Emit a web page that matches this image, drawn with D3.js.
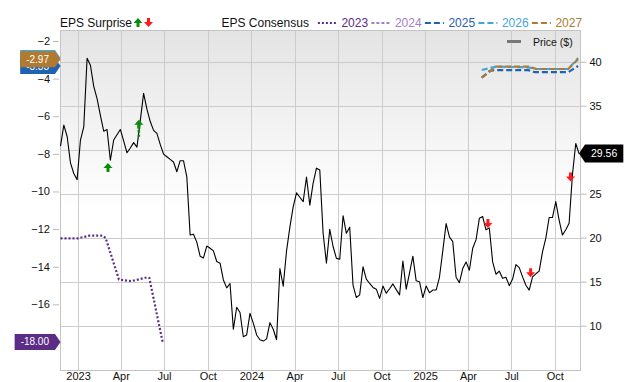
<!DOCTYPE html>
<html>
<head>
<meta charset="utf-8">
<script src="https://cdn.jsdelivr.net/npm/d3@7"></script>
<style>
body { margin: 0; background: #fff; }
svg { font-family: "Liberation Sans", Arial, sans-serif; }
</style>
</head>
<body>
<div id="chart"></div>
<script>
// weekly closing price, first week starts at priceStart
var priceStart = "2022-11-25";
var priceValues = [30.4, 32.8, 31.5, 28.5, 27.3, 26.6, 31.1, 32.6, 40.4, 39.6,
  37.2, 35.8, 33.9, 32.1, 32.3, 28.8, 31.1, 31.7, 32.3, 31.0,
  29.65, 30.2, 30.8, 30.3, 33.3, 36.4, 34.6, 33.2, 32.2, 31.85,
  30.6, 29.5, 29.2, 28.9, 28.6, 27.5, 28.75, 28.75, 26.9, 20.3,
  20.4, 19.5, 17.9, 17.7, 19.05, 18.8, 18.5, 17.3, 17.1, 15.2,
  14.3, 14.8, 9.6, 12.1, 11.5, 8.75, 8.95, 11.4, 10.3, 8.95,
  8.4, 8.25, 8.5, 10.35, 9.6, 8.4, 16.5, 14.5, 18.5, 21.2,
  23.5, 25.1, 24.6, 24.1, 26.9, 23.7, 26.2, 27.9, 27.7, 20.5,
  17.1, 20.95, 19.0, 17.65, 17.55, 22.5, 20.5, 21.2, 14.6, 13.2,
  13.5, 16.7, 15.3, 14.8, 14.35, 14.15, 13.1, 14.5, 13.7, 14.2,
  14.75, 14.1, 13.5, 17.35, 14.15, 16.0, 17.9, 15.1, 15.0, 13.2,
  14.5, 13.75, 14.05, 14.05, 15.5, 18.5, 21.6, 20.1, 19.55, 15.5,
  14.9, 16.5, 17.25, 16.3, 18.8, 19.75, 22.2, 22.4, 20.9, 21.1,
  17.25, 15.85, 16.2, 15.4, 15.5, 14.55, 15.3, 16.95, 16.6, 15.55,
  14.6, 14.05, 15.55, 15.9, 16.2, 18.4, 19.95, 22.3, 22.3, 24.1,
  22.0, 20.3, 20.9, 21.65, 27.15, 30.7, 29.56];

// EPS consensus by fiscal year
var cons2023Dates = ["2022-11-25", "2023-01-01", "2023-01-25", "2023-02-22", "2023-02-28", "2023-03-28", "2023-04-23", "2023-05-26", "2023-05-31", "2023-06-28"];
var cons2023Values = [-12.49, -12.49, -12.35, -12.35, -12.47, -14.68, -14.77, -14.57, -14.6, -18.00];
var cons2024Dates = [];
var cons2024Values = [];
var cons2025Dates = ["2025-04-30", "2025-05-17", "2025-05-28", "2025-08-06", "2025-08-20", "2025-10-29", "2025-11-19"];
var cons2025Values = [-3.95, -3.59, -3.55, -3.55, -3.66, -3.66, -3.33];
var cons2026Dates = ["2025-04-30", "2025-05-31", "2025-08-06", "2025-08-23", "2025-10-29", "2025-11-19"];
var cons2026Values = [-3.54, -3.36, -3.40, -3.49, -3.49, -2.91];
var cons2027Dates = ["2025-04-30", "2025-05-31", "2025-08-06", "2025-08-23", "2025-10-29", "2025-11-19"];
var cons2027Values = [-3.95, -3.36, -3.36, -3.49, -3.49, -2.97];

var seriesNames = ["2023", "2024", "2025", "2026", "2027"];
var seriesColors = ["#5c2d86", "#a47fc2", "#1f62b1", "#3fa6d8", "#b07a30"];

// EPS surprise arrows (price level of the arrow tip)
var surpriseDates = ["2023-03-05", "2023-05-09", "2025-05-13", "2025-08-11", "2025-11-03"];
var surpriseTypes = ["up", "up", "down", "down", "down"];
var surprisePrices = [28.5, 33.4, 21.1, 15.5, 26.4];

var epsTicks = [-2, -4, -6, -8, -10, -12, -14, -16];
var priceTicks = [10, 15, 20, 25, 30, 35, 40];
var lastPrice = 29.56;

var parse = d3.timeParse("%Y-%m-%d");
var fmtMonth = d3.timeFormat("%b");
var fmtYear = d3.timeFormat("%Y");

var width = 640, height = 382;
var plot = {left: 60.5, top: 30.5, right: 580.5, bottom: 370.5};

var svg = d3.select("#chart").append("svg")
  .attr("width", width)
  .attr("height", height);

var x = d3.scaleTime()
  .domain([parse("2022-11-25"), parse("2025-11-24")])
  .range([plot.left, plot.right]);
var yPrice = d3.scaleLinear().domain([4.91, 43.545]).range([plot.bottom, plot.top]);
var yEps = d3.scaleLinear().domain([-19.52, -1.442]).range([plot.bottom, plot.top]);

// background
var grad = svg.append("defs").append("linearGradient")
  .attr("id", "bg").attr("x1", 0).attr("x2", 0).attr("y1", 0).attr("y2", 1);
grad.append("stop").attr("offset", "0%").attr("stop-color", "#e4e4e4");
grad.append("stop").attr("offset", "52%").attr("stop-color", "#ffffff");
grad.append("stop").attr("offset", "100%").attr("stop-color", "#ffffff");

svg.append("rect")
  .attr("x", plot.left).attr("y", plot.top)
  .attr("width", plot.right - plot.left).attr("height", plot.bottom - plot.top)
  .attr("fill", "url(#bg)");

// GRID
var quarters = x.ticks(d3.timeMonth.every(3));
svg.append("g").selectAll("line")
  .data(quarters)
  .enter().append("line")
  .attr("x1", function(d) { return Math.round(x(d)) + 0.5; })
  .attr("x2", function(d) { return Math.round(x(d)) + 0.5; })
  .attr("y1", plot.top).attr("y2", plot.bottom)
  .attr("stroke", "#cccccc");

svg.append("g").selectAll("line")
  .data(priceTicks)
  .enter().append("line")
  .attr("x1", plot.left).attr("x2", plot.right)
  .attr("y1", function(d) { return Math.round(yPrice(d)) + 0.5; })
  .attr("y2", function(d) { return Math.round(yPrice(d)) + 0.5; })
  .attr("stroke", "#cccccc");

svg.append("rect")
  .attr("x", plot.left).attr("y", plot.top)
  .attr("width", plot.right - plot.left).attr("height", plot.bottom - plot.top)
  .attr("fill", "none").attr("stroke", "#c4c4c4");

// AXIS
var leftAxis = svg.append("g")
  .attr("transform", "translate(59,0)")
  .call(d3.axisLeft(yEps).tickValues(epsTicks).tickSize(6).tickPadding(3).tickFormat(d3.format("d")));
// the 30 label sits under the last price tag, so it is left blank
var rightAxis = svg.append("g")
  .attr("transform", "translate(" + plot.right + ",0)")
  .call(d3.axisRight(yPrice).tickValues(priceTicks).tickSize(6).tickPadding(3)
    .tickFormat(function(d) { return Math.abs(d - lastPrice) < 2 ? "" : d; }));
var bottomAxis = svg.append("g")
  .attr("transform", "translate(0," + plot.bottom + ")")
  .call(d3.axisBottom(x).tickValues(quarters).tickSize(0).tickPadding(2)
    .tickFormat(function(d) { return d.getMonth() == 0 ? fmtYear(d) : fmtMonth(d); }));

[leftAxis, rightAxis, bottomAxis].forEach(function(a) {
  a.select(".domain").remove();
  a.selectAll("line").attr("stroke", "#bbbbbb");
  a.selectAll("text").style("font-size", "11px").attr("fill", "#111");
  a.attr("font-family", null);
});

// CONSENSUS LINES
var consDates = [cons2023Dates, cons2024Dates, cons2025Dates, cons2026Dates, cons2027Dates];
var consValues = [cons2023Values, cons2024Values, cons2025Values, cons2026Values, cons2027Values];
var dashes = ["2,2", "3,2", "6,3", "6,3", "6,3"];

var epsLine = d3.line()
  .x(function(d) { return x(d[0]); })
  .y(function(d) { return yEps(d[1]); });

var drawOrder = [0, 1, 3, 2, 4];
drawOrder.forEach(function(k) {
  var pts = consDates[k].map(function(d, i) { return [parse(d), consValues[k][i]]; });
  if (!pts.length) return;
  svg.append("path")
    .attr("d", epsLine(pts))
    .attr("fill", "none")
    .attr("stroke", seriesColors[k])
    .attr("stroke-width", 2.2)
    .attr("stroke-dasharray", dashes[k]);
});

// PRICE LINE
var priceData = priceValues.map(function(v, i) {
  return [d3.timeDay.offset(parse(priceStart), 7 * i), v];
});
var priceLine = d3.line()
  .x(function(d) { return x(d[0]); })
  .y(function(d) { return yPrice(d[1]); });

svg.append("path")
  .attr("d", priceLine(priceData))
  .attr("fill", "none")
  .attr("stroke", "#000")
  .attr("stroke-width", 1.1)
  .attr("stroke-linejoin", "round");

// SURPRISE ARROWS
var arrowPath = function(cx, tip, dir) {
  // dir 1 = up, -1 = down
  var h = 5 * dir, s = 9 * dir;
  return "M" + cx + "," + tip +
    "L" + (cx + 4.5) + "," + (tip + h) +
    "L" + (cx + 1.5) + "," + (tip + h) +
    "L" + (cx + 1.5) + "," + (tip + s) +
    "L" + (cx - 1.5) + "," + (tip + s) +
    "L" + (cx - 1.5) + "," + (tip + h) +
    "L" + (cx - 4.5) + "," + (tip + h) + "Z";
};

surpriseDates.forEach(function(d, i) {
  var cx = x(parse(d)), tip = yPrice(surprisePrices[i]);
  var up = surpriseTypes[i] == "up";
  if (i == 1) {
    svg.append("line")
      .attr("x1", cx).attr("x2", cx)
      .attr("y1", tip + 5).attr("y2", tip + 17)
      .attr("stroke", "#0b8a0b").attr("stroke-width", 2.5)
      .attr("stroke-dasharray", "3,2");
  }
  svg.append("path")
    .attr("d", arrowPath(cx, tip, up ? 1 : -1))
    .attr("fill", up ? "#0b8a0b" : "#ff1a1a");
});

// TAGS
var leftTag = function(yc, label, fill, h, showText) {
  var g = svg.append("g");
  var path = g.append("path").attr("fill", fill);
  var t = g.append("text")
    .attr("y", yc).attr("dy", "0.35em")
    .attr("fill", "#fff").style("font-size", "10px")
    .attr("text-anchor", "middle")
    .text(label);
  var w = t.node().getComputedTextLength() + 12;
  var right = 55, tipX = 60.5;
  path.attr("d", "M" + (right - w) + "," + (yc - h / 2) + "L" + right + "," + (yc - h / 2) +
    "L" + tipX + "," + yc + "L" + right + "," + (yc + h / 2) + "L" + (right - w) + "," + (yc + h / 2) + "Z");
  t.attr("x", right - w / 2);
  if (!showText) t.remove();
};

// 2026 tag sits behind 2027, only its edge shows
var tagOrder = [0, 3, 2, 4];
tagOrder.forEach(function(k) {
  var vals = consValues[k];
  var v = vals[vals.length - 1];
  leftTag(yEps(v), v.toFixed(2), seriesColors[k], 16, k != 3);
});

var py = yPrice(lastPrice);
var pg = svg.append("g");
var pPath = pg.append("path").attr("fill", "#000");
var pText = pg.append("text")
  .attr("y", py).attr("dy", "0.35em")
  .attr("fill", "#fff").style("font-size", "10.5px")
  .attr("text-anchor", "middle")
  .text(lastPrice.toFixed(2));
var pw = pText.node().getComputedTextLength() + 12;
pPath.attr("d", "M579," + py + "L585," + (py - 9) + "L" + (585 + pw) + "," + (py - 9) +
  "L" + (585 + pw) + "," + (py + 9) + "L585," + (py + 9) + "Z");
pText.attr("x", 585 + pw / 2);

// LEGEND
svg.append("text").attr("x", 60).attr("y", 27)
  .style("font-size", "12px").attr("fill", "#111").text("EPS Surprise");
svg.append("path").attr("d", arrowPath(138, 18, 1)).attr("fill", "#0b8a0b");
svg.append("path").attr("d", arrowPath(148.5, 27, -1)).attr("fill", "#ff1a1a");

var consLabel = svg.append("text").attr("x", 221.5).attr("y", 27)
  .style("font-size", "12px").attr("fill", "#111").text("EPS Consensus");

var lx = 221.5 + consLabel.node().getComputedTextLength() + 9;
seriesNames.forEach(function(name, k) {
  svg.append("line")
    .attr("x1", lx).attr("x2", lx + 19)
    .attr("y1", 23).attr("y2", 23)
    .attr("stroke", seriesColors[k]).attr("stroke-width", 2.2)
    .attr("stroke-dasharray", dashes[k]);
  var t = svg.append("text").attr("x", lx + 23.5).attr("y", 27)
    .style("font-size", "12px").attr("fill", seriesColors[k]).text(name);
  lx = lx + 23.5 + t.node().getComputedTextLength() + 3.3;
});

svg.append("line")
  .attr("x1", 507).attr("x2", 521).attr("y1", 41.5).attr("y2", 41.5)
  .attr("stroke", "#777").attr("stroke-width", 3);
svg.append("text").attr("x", 533).attr("y", 45.5)
  .style("font-size", "10.5px").attr("fill", "#111").text("Price ($)");
</script>
</body>
</html>
